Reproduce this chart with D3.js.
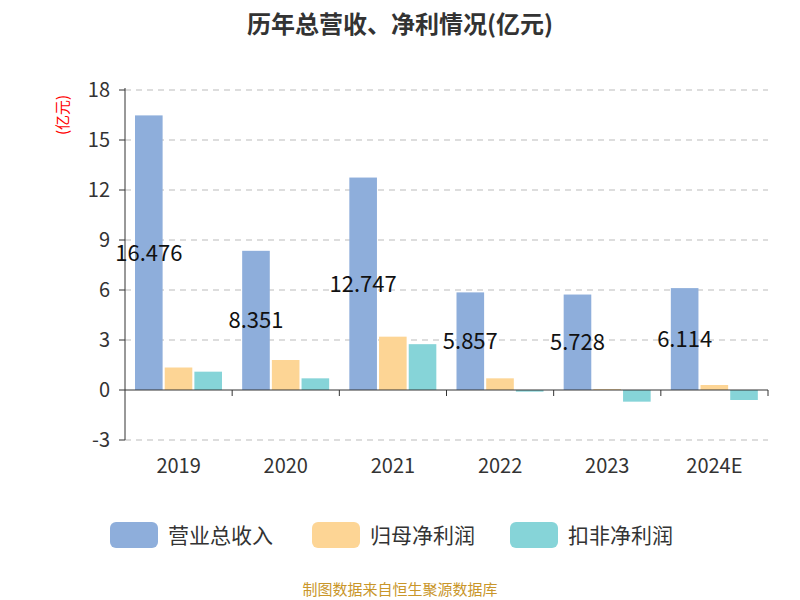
<!DOCTYPE html>
<html><head><meta charset="utf-8">
<script src="https://cdn.jsdelivr.net/npm/d3@7/dist/d3.min.js"></script>
<style>body{margin:0;background:#fff;font-family:"Noto Sans CJK SC","Noto Sans",sans-serif}</style>
</head><body><svg id="c" width="800" height="600"></svg>
<script>
const categories=["2019","2020","2021","2022","2023","2024E"];
const seriesNames=["营业总收入","归母净利润","扣非净利润"];
const revenue=[16.476,8.351,12.747,5.857,5.728,6.114];
const netProfit=[1.35,1.8,3.2,0.7,0.05,0.3];
const deducted=[1.1,0.7,2.75,-0.1,-0.7,-0.6];
const yTicks=[-3,0,3,6,9,12,15,18];
const colors=["#8eaedb","#fdd595","#86d4d8"];
const series=[revenue,netProfit,deducted];
const svg=d3.select("#c");
const x=d3.scaleBand().domain(categories).range([125,768]);
const y=d3.scaleLinear().domain([-3,18]).range([440,90]);
svg.append("text").attr("x",400).attr("y",33).attr("text-anchor","middle").attr("font-size",24).attr("font-weight","bold").attr("fill","#333").text("历年总营收、净利情况(亿元)");
svg.append("text").attr("transform","translate(68,115) rotate(-90)").attr("text-anchor","middle").attr("font-size",15).attr("fill","red").text("(亿元)");
yTicks.forEach(t=>{
 if(t!==0) svg.append("line").attr("x1",125).attr("x2",768).attr("y1",y(t)).attr("y2",y(t)).attr("stroke","#bbb").attr("stroke-dasharray","6,5");
 svg.append("line").attr("x1",119).attr("x2",125).attr("y1",y(t)).attr("y2",y(t)).attr("stroke","#333");
 svg.append("text").attr("x",110).attr("y",y(t)+7).attr("text-anchor","end").attr("font-size",20).attr("fill","#333").text(t);
});
svg.append("line").attr("x1",125).attr("x2",125).attr("y1",88).attr("y2",440).attr("stroke","#333");
const sub=d3.scaleBand().domain([0,1,2]).range([10,97]).paddingInner(0.07);
series.forEach((s,i)=>{
 svg.selectAll(null).data(s).enter().append("rect")
  .attr("x",(d,j)=>x(categories[j])+sub(i)).attr("width",sub.bandwidth())
  .attr("y",d=>y(Math.max(0,d))).attr("height",d=>Math.abs(y(d)-y(0))).attr("fill",colors[i]);
});
svg.append("line").attr("x1",125).attr("x2",768).attr("y1",y(0)).attr("y2",y(0)).attr("stroke","#333");
categories.forEach(c=>{
 svg.append("line").attr("x1",x(c)+x.bandwidth()).attr("x2",x(c)+x.bandwidth()).attr("y1",y(0)).attr("y2",y(0)+6).attr("stroke","#333");
 svg.append("text").attr("x",x(c)+x.bandwidth()/2).attr("y",473).attr("text-anchor","middle").attr("font-size",20).attr("fill","#333").text(c);
});
revenue.forEach((d,j)=>{
 svg.append("text").attr("x",x(categories[j])+sub(0)+sub.bandwidth()/2).attr("y",(y(d)+y(0))/2+8).attr("text-anchor","middle").attr("font-size",22).attr("fill","#111").text(d.toFixed(3));
});
const lx=[110,312,510];
seriesNames.forEach((n,i)=>{
 svg.append("rect").attr("x",lx[i]).attr("y",522).attr("width",48).attr("height",26).attr("rx",6).attr("fill",colors[i]);
 svg.append("text").attr("x",lx[i]+58).attr("y",543).attr("font-size",21).attr("fill","#333").text(n);
});
svg.append("text").attr("x",400).attr("y",595).attr("text-anchor","middle").attr("font-size",15).attr("fill","#c9962a").text("制图数据来自恒生聚源数据库");
</script></body></html>
